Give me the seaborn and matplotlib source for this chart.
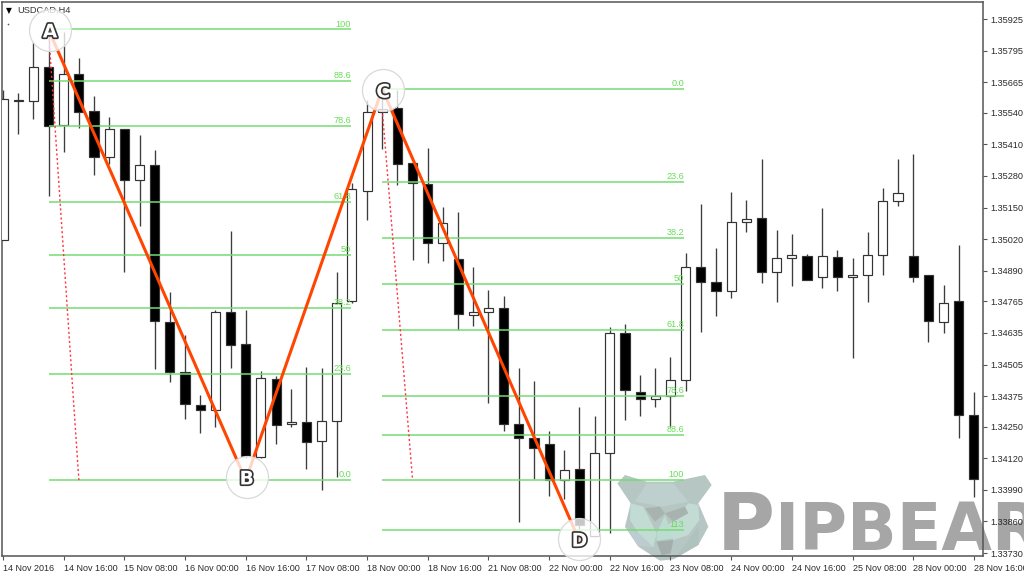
import numpy as np
import pandas as pd
import seaborn as sns
import matplotlib
matplotlib.use("Agg")
import matplotlib.pyplot as plt
from matplotlib.patches import Polygon
import matplotlib.patheffects as pe

# ---------- data (prices in 1e-5 units) ----------
opens = [135017,135592,135588,135728,135489,135699,135547,135358,135473,135263,135325,134680,134474,134339,134318,134721,
         134589,134125,134445,134260,134269,134191,134273,134766,135218,135543,135559,135333,135247,135004,134939,134708,
         134721,134737,134260,134203,134178,134030,134076,133800,134141,134634,134392,134363,134376,134441,134906,134844,
         134807,135091,135107,134885,134943,134951,134865,134947,134865,134873,134955,135177,134951,134873,134680,134766,134297]
highs = [135633,135621,135830,135900,135872,135765,135609,135522,135473,135448,135387,134803,134626,134380,134729,135054,
         134729,134478,134458,134404,134495,134491,134885,135251,135592,135633,135633,135333,135395,135152,135132,134906,
         134811,134787,134491,134437,134232,134154,134330,134293,134659,134671,134462,134491,134536,134963,135165,134984,
         135214,135181,135350,135058,135041,134959,135148,134976,134943,135050,135230,135350,135370,134873,134832,134996,134392]
lows = [135017,135452,135514,135198,135378,135477,135284,135329,134885,135074,134487,134433,134281,134224,134248,134491,
        134121,134121,134178,134248,134076,133989,134043,134758,135099,135391,135243,134935,134922,134930,134647,134663,
        134347,134232,133858,134034,133965,133952,133784,133796,133813,134277,134293,134330,134248,134396,134639,134704,
        134778,135050,134840,134762,134828,134852,134819,134807,134532,134762,134873,135156,134844,134597,134634,134203,133961]
closes = [135596,135588,135728,135485,135699,135543,135358,135473,135263,135325,134684,134474,134343,134318,134721,134585,
          134129,134450,134256,134269,134186,134273,134758,135226,135543,135555,135329,135251,135004,135087,134713,134721,
          134737,134260,134203,134162,134030,134071,133845,134141,134634,134400,134363,134376,134441,134906,134844,134807,
          135091,135103,134885,134943,134955,134852,134951,134865,134873,134955,135177,135210,134865,134684,134758,134297,134034]

x_tick_bars = [0,4,8,12,16,20,24,28,32,36,40,44,48,52,56,60,64]
x_tick_labels = ["14 Nov 2016","14 Nov 16:00","15 Nov 08:00","16 Nov 00:00","16 Nov 16:00","17 Nov 08:00",
                 "18 Nov 00:00","18 Nov 16:00","21 Nov 08:00","22 Nov 00:00","22 Nov 16:00","23 Nov 08:00",
                 "24 Nov 00:00","24 Nov 16:00","25 Nov 08:00","28 Nov 00:00","28 Nov 16:00"]
y_ticks = [1.35925,1.35795,1.35665,1.35540,1.35410,1.35280,1.35150,1.35020,1.34890,
           1.34765,1.34635,1.34505,1.34375,1.34250,1.34120,1.33990,1.33860,1.33730]

fib1_names = ["100","88.6","78.6","61.8","50","38.2","23.6","0.0"]
fib1_prices = [135882,135670,135485,135173,134955,134737,134466,134030]
fib2_names = ["0.0","23.6","38.2","50","61.8","78.6","88.6","100","113"]
fib2_prices = [135637,135255,135025,134836,134647,134376,134215,134030,133825]
fib1_span = (3, 22.95)
fib2_span = (25, 44.9)

zig_bars = [3, 16, 25, 38]
zig_prices = [135882, 134030, 135637, 133780]
dash1_bars, dash1_prices = [3, 5], [135880, 134030]
dash2_bars, dash2_prices = [25, 27], [135551, 134030]

pivot_names = ["A", "B", "C", "D"]
pivot_bars = [3.1, 16.07, 25.06, 38]
pivot_prices = [135880, 134043, 135633, 133788]

dot_bar, dot_price = 0.33, 135904

# ---------- style ----------
sns.set_theme(style="white")
plt.rcParams["font.family"] = ["Liberation Sans", "DejaVu Sans"]
W, H = 1024, 576
FRAME = "#555555"
INK = "#2a2a2a"
GREEN_LINE = "#74dc74"
GREEN_TEXT = "#66dd55"
ZIG = "#ff4500"

df = pd.DataFrame({"bar": range(len(opens)), "o": opens, "h": highs, "l": lows, "c": closes})
for col in "ohlc":
    df[col] = df[col] / 1e5
df["top"] = df[["o", "c"]].max(axis=1)
df["bot"] = df[["o", "c"]].min(axis=1)
df["color"] = np.where(df["c"] >= df["o"], "white", "black")

fig = plt.figure(figsize=(W / 100, H / 100), dpi=100, facecolor="white")
ax = fig.add_axes([2 / W, 1 - 556 / H, 981 / W, 554 / H])
ax.set_facecolor("none")

# ---------- watermark (decoration, under the axes) ----------
def px(points):
    return [(x / W, 1 - y / H) for x, y in points]

def z(points):
    return px([(610 + x / 3, 470 + y / 3) for x, y in points])

bear = [
    ("#b6c6c3", [(22,40),(45,15),(110,35),(190,35),(285,15),(305,45),(265,100),(295,170),(265,225),(190,268),(150,272),(85,230),(45,170),(62,100)]),
    ("#bdd0ce", [(75,95),(110,40),(190,40),(235,95),(155,110)]),
    ("#c2dcd4", [(62,100),(100,110),(140,190),(130,232),(85,190),(60,150)]),
    ("#c2dcd4", [(235,100),(265,105),(268,150),(235,195),(190,210),(170,170)]),
    ("#bcccd0", [(45,170),(85,190),(130,232),(85,228)]),
    ("#bcdcd2", [(140,190),(165,135),(190,205),(140,212)]),
    ("#a8b3b0", [(105,115),(150,110),(165,130),(135,155)]),
    ("#a8b3b0", [(165,130),(225,110),(235,130),(190,155)]),
    ("#a3adab", [(140,215),(190,210),(182,250),(155,255)]),
    ("#b0c2bd", [(225,225),(265,170),(265,225),(190,268)]),
]
for color, pts in bear:
    fig.add_artist(Polygon(z(pts), closed=True, facecolor=color, edgecolor="none",
                           transform=fig.transFigure, zorder=-2))
mark = {"family": "DejaVu Sans", "weight": "bold", "color": "#a6a6a6", "zorder": -1}
fig.text(717 / W, 1 - 550 / H, "P", fontsize=57, ha="left", va="baseline", **mark)
fig.text(775 / W, 1 - 550 / H, "IPBEAR", fontsize=47, ha="left", va="baseline", **mark)

# ---------- candles ----------
ax.vlines(df["bar"], df["l"], df["h"], color="#3c3c3c", lw=0.95, zorder=2)
ax.bar(df["bar"], df["top"] - df["bot"], bottom=df["bot"], width=0.6, color=df["color"],
       edgecolor="#333333", linewidth=0.85, zorder=3)

# ---------- fibonacci levels ----------
for names, prices, span in [(fib1_names, fib1_prices, fib1_span), (fib2_names, fib2_prices, fib2_span)]:
    for name, p in zip(names, prices):
        ax.hlines(p / 1e5, span[0], span[1], color=GREEN_LINE, lw=1.1, zorder=4)
        ax.annotate(name, (span[1], p / 1e5), xytext=(0, 0.6), textcoords="offset points",
                    ha="right", va="bottom", fontsize=6.6, color=GREEN_TEXT, zorder=5)

# ---------- projections and zigzag ----------
for b, p in [(dash1_bars, dash1_prices), (dash2_bars, dash2_prices)]:
    ax.plot(b, np.array(p) / 1e5, color="#ff3040", lw=1.0, ls=(0, (1.5, 1.8)), zorder=5)

zig = pd.DataFrame({"bar": zig_bars, "price": np.array(zig_prices) / 1e5})
sns.lineplot(data=zig, x="bar", y="price", sort=False, estimator=None, color=ZIG,
             lw=2.2, ax=ax, zorder=6, legend=False)

# ---------- pivots ----------
sizes = (2 * 21 * 0.72) ** 2
ax.scatter(pivot_bars, np.array(pivot_prices) / 1e5, s=sizes, facecolor=(1, 1, 1, 0.78),
           edgecolor="#d9d9d9", linewidth=0.9, zorder=7, clip_on=False)
for n, b, p in zip(pivot_names, pivot_bars, pivot_prices):
    ax.text(b, p / 1e5, n, ha="center", va="center_baseline", fontsize=13.5, weight="bold", family="DejaVu Sans",
            color="white", zorder=8,
            path_effects=[pe.withStroke(linewidth=2.4, foreground="#333333")])
ax.scatter([dot_bar], [dot_price / 1e5], s=1.5, color="#7a3a90", linewidth=0, zorder=8)

# ---------- axes ----------
ax.set_xlim(-0.066, 64.6)
ax.set_ylim(1.33718, 1.35995)
ax.set_xticks(x_tick_bars)
ax.set_xticklabels(x_tick_labels, ha="left", fontsize=6.5, color=INK)
ax.set_yticks(y_ticks)
ax.set_yticklabels([f"{t:.5f}" for t in y_ticks], fontsize=6.6, color=INK)
ax.yaxis.tick_right()
ax.tick_params(axis="x", bottom=True, length=3, width=0.8, color=FRAME, pad=2.5)
ax.tick_params(axis="y", right=True, length=3, width=0.8, color=FRAME, pad=2)
ax.set_xlabel("")
ax.set_ylabel("")
for s in ax.spines.values():
    s.set_color(FRAME)
    s.set_linewidth(1.1)

# ---------- header ----------
ax.text(0.004, 0.9855, "\u25BC", transform=ax.transAxes, fontsize=5.5, color="black", va="center", family="DejaVu Sans")
ax.text(0.0155, 0.9855, "USDCAD,H4", transform=ax.transAxes, fontsize=6.7, color="#333333", va="center")

fig.savefig("out.png", dpi=100)
